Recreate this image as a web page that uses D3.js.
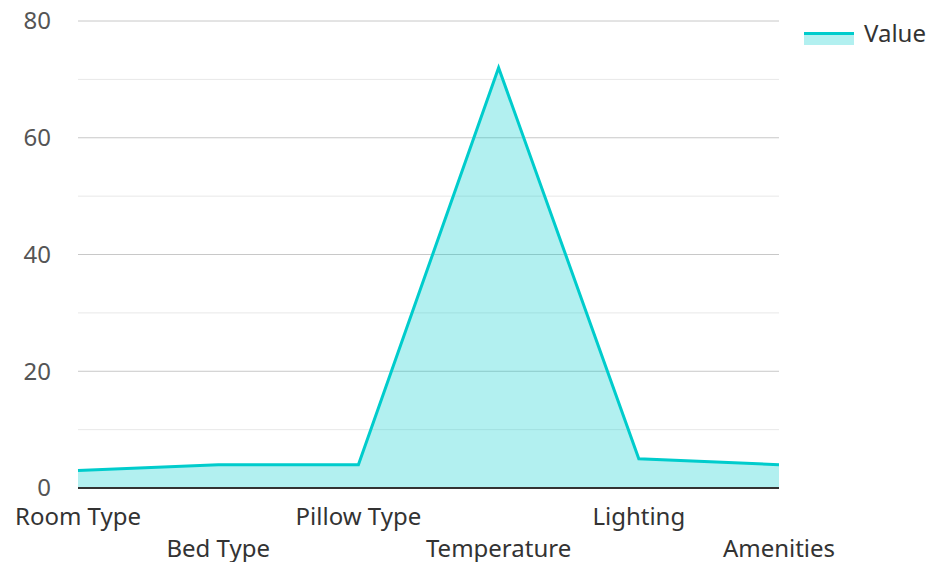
<!DOCTYPE html>
<html>
<head>
<meta charset="utf-8">
<script src="https://cdn.jsdelivr.net/npm/d3@7"></script>
<style>
  body { margin: 0; background: #fff; }
  svg { font-family: "Noto Sans", "Open Sans", sans-serif; }
</style>
</head>
<body>
<svg id="chart" width="929" height="562"></svg>
<script>
const categories = ["Room Type", "Bed Type", "Pillow Type", "Temperature", "Lighting", "Amenities"];
const values = [3, 4, 4, 72, 5, 4];
const majorTicks = [0, 20, 40, 60, 80];
const minorTicks = [10, 30, 50, 70];
const seriesName = "Value";

const svg = d3.select("#chart");
const plotL = 78, plotR = 779, plotT = 21, plotB = 488;
const fontSize = "24px";

const x = d3.scalePoint().domain(categories).range([plotL, plotR]);
const y = d3.scaleLinear().domain([0, 80]).range([plotB, plotT]);

const lineColor = "#00cccc";
const fillColor = "#00cccc";

// minor grid
svg.append("g").selectAll("line").data(minorTicks).join("line")
  .attr("x1", plotL).attr("x2", plotR)
  .attr("y1", d => y(d)).attr("y2", d => y(d))
  .attr("stroke", "#e8e8e8").attr("stroke-width", 1);

// major grid
svg.append("g").selectAll("line").data(majorTicks.filter(d => d > 0)).join("line")
  .attr("x1", plotL).attr("x2", plotR)
  .attr("y1", d => y(d)).attr("y2", d => y(d))
  .attr("stroke", "#c8c8c8").attr("stroke-width", 1);

// y tick labels
svg.append("g").selectAll("text").data(majorTicks).join("text")
  .attr("x", 51).attr("y", d => y(d))
  .attr("dy", "0.35em")
  .attr("text-anchor", "end")
  .attr("fill", "#555")
  .style("font-size", fontSize)
  .text(d => d);

const data = categories.map((c, i) => ({ c, v: values[i] }));

const area = d3.area().x(d => x(d.c)).y0(y(0)).y1(d => y(d.v));
const line = d3.line().x(d => x(d.c)).y(d => y(d.v));

svg.append("path").datum(data)
  .attr("d", area)
  .attr("fill", fillColor).attr("fill-opacity", 0.3);

svg.append("path").datum(data)
  .attr("d", line)
  .attr("fill", "none")
  .attr("stroke", lineColor).attr("stroke-width", 3)
  .attr("stroke-linejoin", "miter");

// baseline axis
svg.append("line")
  .attr("x1", plotL).attr("x2", plotR)
  .attr("y1", y(0)).attr("y2", y(0))
  .attr("stroke", "#333").attr("stroke-width", 2);

// x labels, staggered
svg.append("g").selectAll("text").data(categories).join("text")
  .attr("x", d => x(d))
  .attr("y", (d, i) => i % 2 === 0 ? 517 : 549)
  .attr("dy", "0.35em")
  .attr("text-anchor", "middle")
  .attr("fill", "#333")
  .style("font-size", fontSize)
  .text(d => d);

// legend
const lg = svg.append("g").attr("transform", "translate(804,32)");
lg.append("rect").attr("x", 0).attr("y", 0).attr("width", 50).attr("height", 13)
  .attr("fill", fillColor).attr("fill-opacity", 0.3);
lg.append("line").attr("x1", 0).attr("x2", 50).attr("y1", 1.5).attr("y2", 1.5)
  .attr("stroke", lineColor).attr("stroke-width", 3);
lg.append("text").attr("x", 60).attr("y", 2).attr("dy", "0.35em")
  .attr("fill", "#333").style("font-size", fontSize).text(seriesName);
</script>
</body>
</html>
